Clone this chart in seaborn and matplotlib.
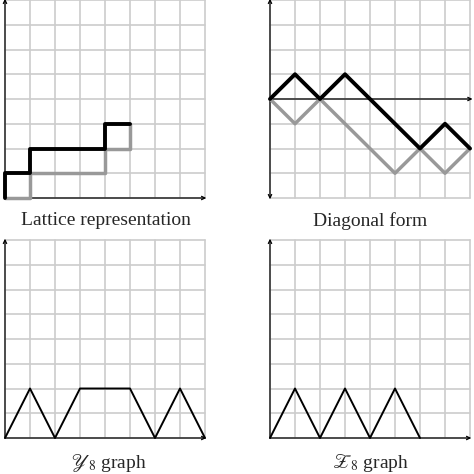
import matplotlib
matplotlib.use("Agg")
import matplotlib.pyplot as plt
import seaborn as sns
import pandas as pd

sns.set_style("white")
plt.rcParams['font.family'] = ['Liberation Serif', 'DejaVu Serif']
plt.rcParams['mathtext.fontset'] = 'stix'

# Lattice paths
lat_black_x = [0, 0, 1, 1, 4, 4, 5]
lat_black_y = [0, 1, 1, 2, 2, 3, 3]
lat_gray_x = [0, 1, 1, 4, 4, 5, 5]
lat_gray_y = [0, 0, 1, 1, 2, 2, 3]
# Diagonal form
diag_x = [0, 1, 2, 3, 4, 5, 6, 7, 8]
diag_black = [0, 1, 0, 1, 0, -1, -2, -1, -2]
diag_gray = [0, -1, 0, -1, -2, -3, -2, -3, -2]
# Y8 and Z8 graphs
y8_x = [0, 1, 2, 3, 4, 5, 6, 7, 8]
y8_h = [0, 2, 0, 2, 2, 2, 0, 2, 0]
z8_x = [0, 1, 2, 3, 4, 5, 6]
z8_h = [0, 2, 0, 2, 0, 2, 0]

captions = ["Lattice representation", "Diagonal form", r"$\mathscr{Y}_8$ graph", r"$\mathscr{Z}_8$ graph"]

W = 474
fig = plt.figure(figsize=(4.74, 4.74), dpi=100)

def add_ax(l, t, r, b):
    return fig.add_axes([l / W, 1 - b / W, (r - l) / W, (b - t) / W])

def grid(ax, y0, y1):
    ax.set_xlim(0, 8)
    ax.set_ylim(y0, y1)
    for s in ax.spines.values():
        s.set_visible(False)
    ax.set_xticks([]); ax.set_yticks([])
    for i in range(9):
        ax.plot([i, i], [y0, y1], color='#cccccc', lw=1.2, zorder=0, clip_on=False)
    for j in range(y0, y1 + 1):
        ax.plot([0, 8], [j, j], color='#cccccc', lw=1.2, zorder=0, clip_on=False)

arrow = dict(arrowstyle='->', lw=0.9, color='black', shrinkA=0, shrinkB=0, mutation_scale=6)

def path(ax, x, y, color, lw, z):
    sns.lineplot(x=x, y=y, sort=False, ax=ax, color=color, lw=lw, zorder=z,
                 estimator=None, clip_on=False)

# Top-left
ax = add_ax(5, 0, 205, 198)
grid(ax, 0, 8)
ax.annotate('', xy=(8.05, 0), xytext=(0, 0), arrowprops=arrow, annotation_clip=False)
ax.annotate('', xy=(0, 8.05), xytext=(0, 0), arrowprops=arrow, annotation_clip=False)
path(ax, lat_gray_x, lat_gray_y, '#999999', 2.5, 3)
path(ax, lat_black_x, lat_black_y, 'black', 2.8, 4)

# Top-right
ax = add_ax(270, 0, 470, 198)
grid(ax, -4, 4)
ax.annotate('', xy=(8.1, 0), xytext=(0, 0), arrowprops=arrow, annotation_clip=False)
ax.annotate('', xy=(0, 4.05), xytext=(0, -4.05), arrowprops=dict(arrow, arrowstyle='<->'), annotation_clip=False)
path(ax, diag_x, diag_gray, '#999999', 2.5, 3)
path(ax, diag_x, diag_black, 'black', 2.8, 4)

# Bottom-left
ax = add_ax(5, 240, 205, 438)
grid(ax, 0, 8)
ax.annotate('', xy=(8.05, 0), xytext=(0, 0), arrowprops=arrow, annotation_clip=False)
ax.annotate('', xy=(0, 8.05), xytext=(0, 0), arrowprops=arrow, annotation_clip=False)
path(ax, y8_x, y8_h, 'black', 1.4, 4)

# Bottom-right
ax = add_ax(270, 240, 470, 438)
grid(ax, 0, 8)
ax.annotate('', xy=(8.05, 0), xytext=(0, 0), arrowprops=arrow, annotation_clip=False)
ax.annotate('', xy=(0, 8.05), xytext=(0, 0), arrowprops=arrow, annotation_clip=False)
path(ax, z8_x, z8_h, 'black', 1.4, 4)

for (cx, cy), txt in zip([(106, 221), (370, 221), (108, 463), (370, 463)], captions):
    fig.text(cx / W, 1 - cy / W, txt, ha='center', va='center', fontsize=14)

fig.savefig("out.png", dpi=100)
